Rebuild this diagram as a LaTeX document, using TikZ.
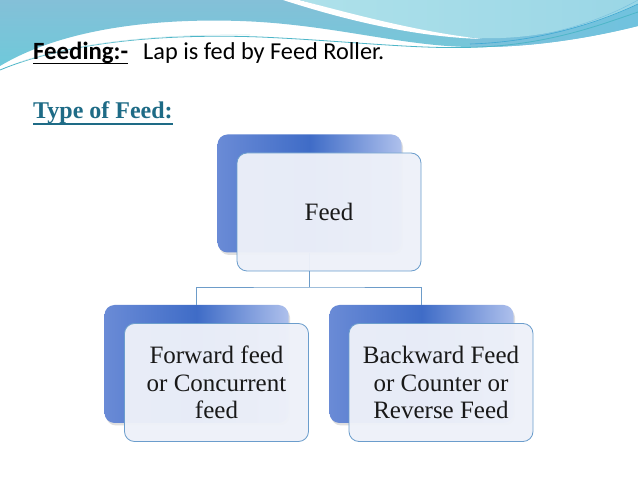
\documentclass[tikz,border=0pt]{standalone}
\usepackage{fontspec}
\newfontfamily\calibri{Carlito}
\newfontfamily\timesf{Liberation Serif}
\usetikzlibrary{shadows}
\definecolor{hdA}{HTML}{84C0D8}
\definecolor{hdB}{HTML}{6FC9DA}
\definecolor{hdR}{HTML}{70C2DE}
\definecolor{lightA}{HTML}{AEE1EA}
\definecolor{lightB}{HTML}{9AD6E6}
\definecolor{tealline}{HTML}{4DB6C8}
\definecolor{bandline}{HTML}{3FA8D2}
\definecolor{titleteal}{HTML}{1E6B86}
\definecolor{bkL}{HTML}{6A8BD6}
\definecolor{bkM}{HTML}{3F6CC7}
\definecolor{bkR}{HTML}{AEC0EC}
\definecolor{frontfill}{HTML}{EEF1F9}
\definecolor{frontline}{HTML}{6B9DCC}
\definecolor{linkc}{HTML}{6D9CC9}
\tikzset{
  backbox/.style={rounded corners=10pt, minimum width=184pt, minimum height=118pt, inner sep=0pt,
    left color=bkL, right color=bkR, middle color=bkM,
    drop shadow={shadow xshift=1.5pt, shadow yshift=-2.5pt, opacity=0.25}},
  frontbox/.style={rounded corners=10pt, minimum width=184pt, minimum height=118pt, inner sep=0pt,
    draw=frontline, line width=0.8pt, fill=frontfill, fill opacity=0.96, text opacity=1,
    align=center, text=black!90, font=\timesf\fontsize{25}{27.5}\selectfont},
  link/.style={draw=linkc, line width=0.9pt}
}
\begin{document}
\begin{tikzpicture}[x=1pt,y=-1pt]
\useasboundingbox (0,0) rectangle (638,478);
\fill[white] (0,0) rectangle (638,478);
% header waves
\shade[top color=hdA, bottom color=hdB] (0,0) -- (638,0) -- (638,26)
  .. controls (590,38) and (530,48) .. (470,47)
  .. controls (400,46) and (330,24) .. (240,21)
  .. controls (150,18) and (60,30) .. (0,66) -- cycle;
\shade[left color=hdA!60!hdR, right color=hdR] (470,38) .. controls (540,40) and (600,20) .. (638,2)
  -- (638,26) .. controls (590,38) and (530,48) .. (470,47) -- cycle;
\shade[left color=lightA, right color=lightB] (300,0) -- (638,0) -- (638,4)
  .. controls (590,28) and (530,40) .. (478,38)
  .. controls (410,34) and (350,14) .. (300,0) -- cycle;
\fill[white] (283,0) -- (299,0) .. controls (360,16) and (420,32) .. (482,39)
  .. controls (415,37) and (345,20) .. (283,0) -- cycle;
\draw[tealline, line width=0.8pt] (0,70) .. controls (60,45) and (150,33) .. (260,37)
  .. controls (350,41) and (420,50) .. (480,47) .. controls (550,44) and (600,25) .. (638,12);
\draw[bandline, line width=0.6pt] (470,44) .. controls (540,42) and (600,22) .. (638,4);
\draw[bandline!70!white, line width=0.5pt] (500,40) .. controls (560,36) and (610,16) .. (638,0);
\draw[white!70!tealline, line width=0.5pt] (20,62) .. controls (80,42) and (160,34) .. (250,35);
% header text
\node[anchor=base west, inner sep=0pt, font=\calibri\bfseries\fontsize{24.8}{28}\selectfont] (feeding) at (33,60) {Feeding:-};
\draw[line width=1.4pt] ([yshift=-3.5pt]feeding.base west) -- ([yshift=-3.5pt]feeding.base east);
\node[anchor=base west, inner sep=0pt, font=\calibri\fontsize{24.3}{28}\selectfont] (lap) at (143,60) {Lap is fed by Feed Roller.};
\node[anchor=base west, inner sep=0pt, font=\timesf\bfseries\fontsize{24}{28}\selectfont, text=titleteal] (type) at (33,119) {Type of Feed:};
\draw[titleteal, line width=1.3pt] ([yshift=-5pt]type.base west) -- ([yshift=-5pt]type.base east);
% back boxes
\node[backbox] (fb) at (309.5,193.5) {};
\node[backbox] (lb) at (196.5,364) {};
\node[backbox] (rb) at (421.5,364) {};
% connectors
\coordinate (j) at (309.5,287);
\draw[link] (fb.south) -- (j);
\draw[link] (lb.north) |- (j) -| (rb.north);
% front boxes
\node[frontbox] (ff) at (329,212) {Feed};
\node[frontbox] (lf) at (216.5,382.5) {Forward feed\\or Concurrent\\feed};
\node[frontbox] (rf) at (441,382.5) {Backward Feed\\or Counter or\\Reverse Feed};
\end{tikzpicture}
\end{document}
